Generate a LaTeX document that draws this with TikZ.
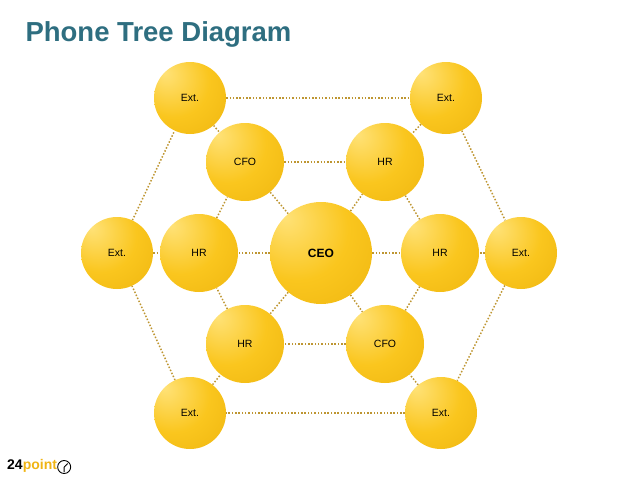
\documentclass[tikz,border=0pt]{standalone}
\usepackage{fontspec}
\setmainfont{Liberation Sans}
\definecolor{c1}{RGB}{255,226,120}
\definecolor{c2}{RGB}{250,198,30}
\definecolor{c3}{RGB}{226,164,0}
\pgfdeclareradialshading{myball}{\pgfpoint{-18bp}{18bp}}{color(0bp)=(c1); color(25bp)=(c2); color(70bp)=(c3)}
\begin{document}
\begin{tikzpicture}[x=1pt,y=-1pt,
  ball/.style={circle,minimum size=#1,inner sep=0pt,shading=myball,
    font=\fontsize{10.5}{12}\selectfont},
  ball/.default=72pt,
  link/.style={draw={rgb,255:red,190;green,150;blue,50},line width=1.5pt,dash pattern=on 1.5pt off 1.8pt}]
\useasboundingbox (0,0) rectangle (638,479);
\node[anchor=west,font=\bfseries\fontsize{27.5}{32}\selectfont,text={rgb,255:red,46;green,110;blue,128}] (title) at (22,34) {Phone Tree Diagram};
\node[ball] (etl) at (190,98) {Ext.};
\node[ball] (etr) at (446,98) {Ext.};
\node[ball] (el) at (117,253) {Ext.};
\node[ball] (er) at (521,253) {Ext.};
\node[ball] (ebl) at (190,413) {Ext.};
\node[ball] (ebr) at (441,413) {Ext.};
\node[ball=78pt] (cfot) at (245,162) {CFO};
\node[ball=78pt] (hrt) at (385,162) {HR};
\node[ball=78pt] (hrl) at (199,253) {HR};
\node[ball=78pt] (hrr) at (440,253) {HR};
\node[ball=78pt] (hrb) at (245,344) {HR};
\node[ball=78pt] (cfob) at (385,344) {CFO};
\node[ball=102pt,font=\bfseries\fontsize{12}{14}\selectfont] (ceo) at (321,253) {CEO};
\pgfdeclarelayer{bg}\pgfsetlayers{bg,main}
\begin{pgfonlayer}{bg}
\foreach \a/\b in {etl/etr,etr/er,er/ebr,ebr/ebl,ebl/el,el/etl,
  cfot/hrt,hrt/hrr,hrr/cfob,cfob/hrb,hrb/hrl,hrl/cfot,
  etl/cfot,etr/hrt,el/hrl,er/hrr,ebl/hrb,ebr/cfob,
  ceo/cfot,ceo/hrt,ceo/hrl,ceo/hrr,ceo/hrb,ceo/cfob}
  \draw[link] (\a) -- (\b);
\end{pgfonlayer}
\node[anchor=west,inner sep=0pt,font=\bfseries\fontsize{14}{16}\selectfont] (logo) at (7,466) {24\textcolor[RGB]{240,180,20}{point}};
\coordinate (clk) at ([xshift=7pt,yshift=-1pt]logo.east);
\draw[line width=0.9pt] (clk) circle (6.5pt);
\draw[line width=0.9pt] (clk) -- ++(0,-5pt) (clk) -- ++(3.5pt,3.5pt);
\end{tikzpicture}
\end{document}
